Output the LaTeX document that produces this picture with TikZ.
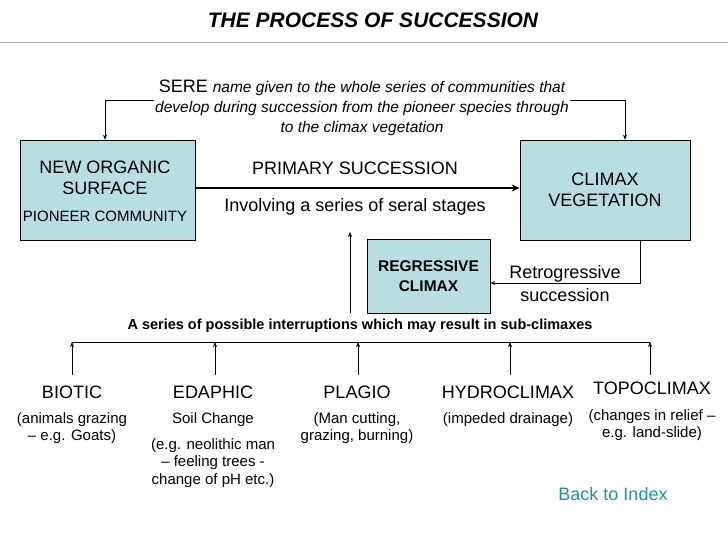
\documentclass[tikz,border=0pt]{standalone}
\usepackage{fontspec}
\setmainfont{Liberation Sans}
\usetikzlibrary{arrows.meta}
\begin{document}
\begin{tikzpicture}[x=1pt,y=-1pt,
  box/.style={draw,fill=boxc,line width=0.6pt},
  t/.style={font=\fontsize{18}{21}\selectfont,align=center},
  s/.style={font=\fontsize{15}{17.5}\selectfont,align=center},
  arr/.style={-{Stealth[length=5pt,width=4pt]},line width=0.5pt}]
\definecolor{boxc}{RGB}{184,222,226}
\definecolor{teal2}{RGB}{30,150,150}
\useasboundingbox[fill=white] (0,0) rectangle (728,546);
\node[font=\fontsize{21}{24}\selectfont\bfseries\itshape] (title) at (373,20) {THE PROCESS OF SUCCESSION};
\draw[gray!60] (0,42) coordinate (l1) -- (728,42) coordinate (l2);
% SERE
\coordinate (sl) at (105,100); \coordinate (sr) at (625,100);
\draw (sl) -- (sr);
\node[fill=white,inner sep=1pt,font=\fontsize{18}{20}\selectfont,align=center] (sere) at (362,108)
 {SERE {\itshape\fontsize{15.5}{20}\selectfont name given to the whole series of communities that}\\
 {\itshape\fontsize{15.5}{20}\selectfont develop during succession from the pioneer species through}\\
 {\itshape\fontsize{15.5}{20}\selectfont to the climax vegetation}};
\node[box,minimum width=175,minimum height=100] (new) at (107.5,190) {};
\node[t] (n1) at (105,178) {NEW ORGANIC\\SURFACE};
\node[s] (n2) at (105,216) {PIONEER COMMUNITY};
\node[box,minimum width=170,minimum height=100,t] (cli) at (605,190) {CLIMAX\\VEGETATION};
\draw[arr] (sl) -- (sl |- new.north);
\draw[arr] (sr) -- (sr |- cli.north);
\draw[-{Stealth[length=8pt,width=7pt]},line width=2pt] (new.east |- 0,188) -- (cli.west |- 0,188);
\node[t] (ps) at (355,168) {PRIMARY SUCCESSION};
\node[t] (inv) at (355,207) {Involving a series of seral stages};
\node[box,minimum width=123,minimum height=74,font=\fontsize{15.5}{20}\selectfont\bfseries,align=center] (reg) at (428.5,276) {REGRESSIVE\\CLIMAX};
\coordinate (c1) at (640,240);
\draw[arr] (c1) |- (reg.east |- 0,283);
\node[t,font=\fontsize{18}{23}\selectfont] (retro) at (565,284) {Retrogressive\\succession};
\coordinate (v1) at (350,313);
\draw[arr] (v1) -- (350,232);
\node[font=\fontsize{14.5}{16}\selectfont\bfseries] (ser) at (360,326) {A series of possible interruptions which may result in sub-climaxes};
\draw (72,342) coordinate (h1) -- (650,342) coordinate (h2);
\foreach \x/\n in {72/a,215/b,358/c,510/d,650/e}{
  \coordinate (b\n) at (\x,375);
  \draw[arr] (b\n) -- (\x,342);
}
\node[t] (bio) at (72,392) {BIOTIC};
\node[t] (eda) at (213,392) {EDAPHIC};
\node[t] (pla) at (357,392) {PLAGIO};
\node[t] (hyd) at (508,392) {HYDROCLIMAX};
\node[t] (top) at (652,388) {TOPOCLIMAX};
\node[s] (bio2) at (72,428) {(animals grazing\\– e.g. Goats)};
\node[s] (eda2) at (213,420) {Soil Change};
\node[s] (eda3) at (213,463) {(e.g. neolithic man\\– feeling trees -\\change of pH etc.)};
\node[s] (pla2) at (357,428) {(Man cutting,\\grazing, burning)};
\node[s] (hyd2) at (508,420) {(impeded drainage)};
\node[s] (top2) at (652,425) {(changes in relief –\\e.g. land-slide)};
\node[font=\fontsize{18}{21}\selectfont,text=teal2] (back) at (613,494) {Back to Index};
\end{tikzpicture}
\end{document}
